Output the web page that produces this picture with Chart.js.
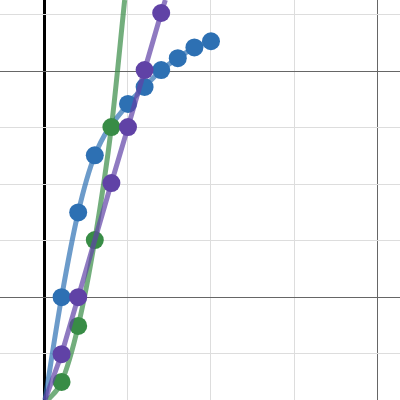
<!DOCTYPE html>
<html><head><script src="https://cdn.jsdelivr.net/npm/chart.js"></script>
<style>html,body{margin:0;padding:0;background:#fff}</style></head>
<body><div style="width:400px;height:400px"><canvas id="c"></canvas></div>
<script>
const blueX=[0,0.2,0.4,0.6,1.0,1.2,1.4,1.6,1.8,2.0];
const blueY=[2.18,4,5.5,6.51,7.42,7.72,8.02,8.23,8.42,8.53];
const blueR=[0,9,9,9,9,9,9,9,9,9];
const purpleX=[0,0.2,0.4,0.8,1.0,1.2,1.4,1.45];
const purpleY=[2.18,2.99,4,6.02,7.01,8.02,9.03,9.26];
const purpleR=[0,9,9,9,9,9,9,0];
const greenX=[0.036,0.2,0.4,0.6,0.8,0.96];
const greenY=[2.18,2.5,3.49,5.01,7.01,9.26];
const greenR=[0,9,9,9,9,0];
const xTicks=[0,1,2,3,4];
const yTicks=[3,4,5,6,7,8,9];
const pts=(xs,ys)=>xs.map((x,i)=>({x,y:ys[i]}));
function ds(xs,ys,r,c,t){return{data:pts(xs,ys),showLine:true,borderColor:c+'b3',backgroundColor:c,pointBackgroundColor:c,pointBorderWidth:0,pointRadius:r,pointHoverRadius:r,borderWidth:5,tension:t,cubicInterpolationMode:t?'monotone':'default'};}
const gc=v=>Math.abs(v)<1e-6?'#000':(Math.abs(v%4)<1e-6?'#666':'#ddd');
new Chart(document.getElementById('c'),{type:'scatter',data:{datasets:[
 ds(purpleX,purpleY,purpleR,'#6042a6',0),
 ds(greenX,greenY,greenR,'#388c46',0.3),
 ds(blueX,blueY,blueR,'#2d70b3',0.3)
]},
options:{responsive:true,maintainAspectRatio:false,animation:false,layout:{padding:0,autoPadding:false},
plugins:{legend:{display:false},tooltip:{enabled:false}},
scales:{
 x:{type:'linear',min:-0.542,max:4.277,ticks:{display:false},border:{display:false},
  afterBuildTicks:s=>{s.ticks=xTicks.map(v=>({value:v}));},afterFit:s=>{s.height=0;},
  grid:{drawTicks:false,color:c=>gc(c.tick.value),lineWidth:c=>Math.abs(c.tick.value)<1e-6?3:1}},
 y:{type:'linear',min:2.18,max:9.26,ticks:{display:false},border:{display:false},
  afterBuildTicks:s=>{s.ticks=yTicks.map(v=>({value:v}));},afterFit:s=>{s.width=0;},
  grid:{drawTicks:false,color:c=>gc(c.tick.value),lineWidth:1}}
}}});
</script></body></html>
